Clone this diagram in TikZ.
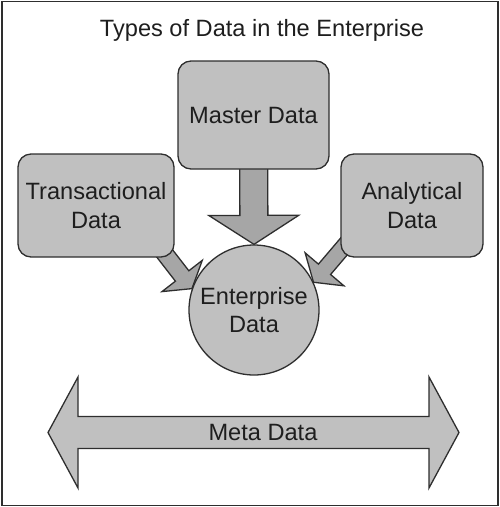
\documentclass[tikz,border=0pt]{standalone}
\usepackage{fontspec}
\setmainfont{Liberation Sans}
\usetikzlibrary{calc,backgrounds}
\usepackage{xcolor}
\definecolor{boxgray}{HTML}{C0C0C0}
\definecolor{arrowgray}{HTML}{A6A6A6}
\definecolor{linegray}{HTML}{2E2E2E}
\definecolor{textgray}{HTML}{1E1E1E}

% block arrow: fill, tail, tip, half shaft, half head, head length
\newcommand{\blockarrow}[6]{%
	\coordinate (bab) at ($(#3)!#6!(#2)$);
	\filldraw[shapeline,fill=#1] ($(#2)!#4!90:(#3)$) -- ($(bab)!#4!90:(#3)$)
	-- ($(bab)!#5!90:(#3)$) -- (#3) -- ($(bab)!#5!-90:(#3)$)
	-- ($(bab)!#4!-90:(#3)$) -- ($(#2)!#4!-90:(#3)$) -- cycle;}

\begin{document}
\begin{tikzpicture}[x=1pt,y=-1pt,
	every node/.style={font=\fontsize{23.6}{28.5}\selectfont,text=textgray},
	shapeline/.style={draw=linegray,line width=1.3pt,line join=miter},
	databox/.style={shapeline,fill=boxgray,rounded corners=13pt,align=center,inner sep=0pt},
	datacircle/.style={shapeline,fill=boxgray,circle,align=center,inner sep=0pt,minimum size=130pt}]
	\useasboundingbox (0,0) rectangle (500,507);
	\draw[linegray,line width=1.5pt] (2,1.5) rectangle (498,505.5);
	\node[anchor=base] (title) at (262,36) {Types of Data in the Enterprise};
	\node[databox,minimum width=151pt,minimum height=108pt] (master) at (253.5,115) {Master Data};
	\node[databox,minimum width=156pt,minimum height=103pt] (trans) at (96,205.5) {Transactional\\Data};
	\node[databox,minimum width=142pt,minimum height=103pt] (anal) at (412,205.5) {Analytical\\Data};
	\node[datacircle] (ent) at (254,310) {Enterprise\\Data};
	\coordinate (t_in) at (162,250);
	\coordinate (a_in) at (352,237);
	\begin{pgfonlayer}{background}
		\blockarrow{arrowgray}{master.center}{ent.north}{14pt}{45pt}{29pt}
		\blockarrow{arrowgray}{t_in}{ent.161}{8.5pt}{25.5pt}{16pt}
		\blockarrow{arrowgray}{a_in}{ent.25}{8pt}{25.5pt}{17pt}
	\end{pgfonlayer}
	% meta data
	\coordinate (m_l) at (48,432.5);
	\coordinate (m_r) at (459,432.5);
	\filldraw[shapeline,fill=boxgray] (m_l) -- (78,377) -- (78,416.5) -- (429,416.5)
	-- (429,377) -- (m_r) -- (429,488) -- (429,448.5) -- (78,448.5) -- (78,488) -- cycle;
	\node (meta) at (263,432.5) {Meta Data};
\end{tikzpicture}
\end{document}
